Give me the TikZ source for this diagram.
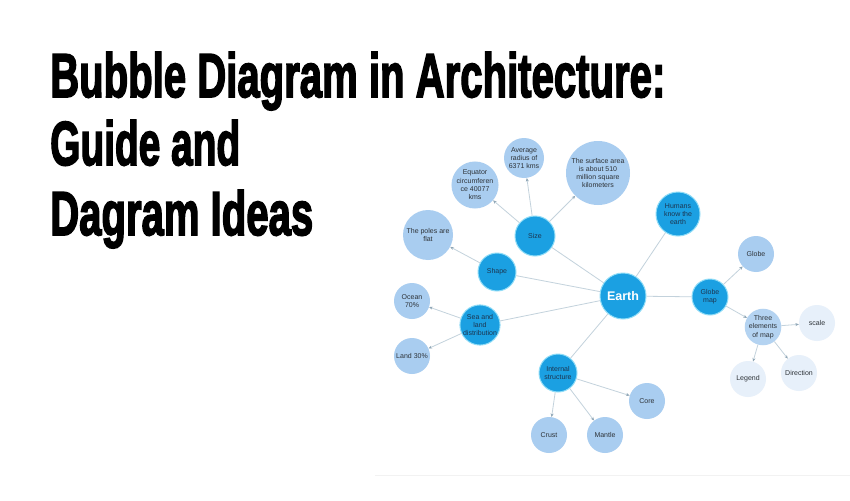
\documentclass[tikz,border=0pt]{standalone}
\usepackage{fontspec}
\setmainfont{Liberation Sans}
\newfontfamily\titlefont{Liberation Sans Bold}[FakeBold=3]
\usetikzlibrary{arrows.meta}
\definecolor{darkb}{HTML}{1BA0E2}
\definecolor{glow}{HTML}{8FDCF7}
\definecolor{lightb}{HTML}{A9CDF0}
\definecolor{midb}{HTML}{B4D3F1}
\definecolor{palest}{HTML}{E7F0FA}
\definecolor{edgec}{HTML}{C3D2DC}
\definecolor{arrc}{HTML}{8FA6B6}
\definecolor{txt}{HTML}{2E3338}
\definecolor{darktxt}{HTML}{1C3550}
\tikzset{
  bub/.style={circle, inner sep=0pt, align=center, font=\fontsize{7}{8.3}\selectfont, text=txt},
  darkbub/.style={bub, fill=darkb, draw=glow, line width=1pt, text=darktxt},
  lightbub/.style={bub, fill=lightb},
  midbub/.style={bub, fill=midb},
  palebub/.style={bub, fill=palest},
  link/.style={draw=edgec, line width=0.8pt},
  arr/.style={link, -{Stealth[length=3.5pt,width=3pt,color=arrc]}},
  titletxt/.style={anchor=base west, inner sep=0pt, text=black}
}
\begin{document}
\begin{tikzpicture}[x=1pt,y=-1pt]
\useasboundingbox (0,0) rectangle (850,500);
\fill[white] (0,0) rectangle (850,500);
% title
\node[titletxt] (t1) at (50,97) {\resizebox{615pt}{45pt}{\titlefont Bubble Diagram in Architecture:}};
\node[titletxt] (t2) at (50,165) {\resizebox{190pt}{45pt}{\titlefont Guide and}};
\node[titletxt] (t3) at (50,235) {\resizebox{263pt}{45pt}{\titlefont Dagram Ideas}};
% faint image edge
\draw[draw=black!5, line width=0.8pt] (375,475) -- (850,475);
% bubbles
\node[darkbub, minimum size=46pt, font=\bfseries\fontsize{12.5}{14}\selectfont, text=white] (earth) at (623,296) {Earth};
\node[darkbub, minimum size=40pt] (size) at (535,236) {Size};
\node[darkbub, minimum size=38pt] (shape) at (497,272) {Shape};
\node[darkbub, minimum size=40pt] (sea) at (480,325) {Sea and\\land\\distribution};
\node[darkbub, minimum size=38pt] (internal) at (558,373) {Internal\\structure};
\node[darkbub, minimum size=44pt] (humans) at (678,214) {Humans\\know the\\earth};
\node[darkbub, minimum size=36pt] (globemap) at (710,297) {Globe\\map};
\node[lightbub, minimum size=40pt] (equator) at (475,185) {Equator\\circumferen\\ce 40077\\kms};
\node[lightbub, minimum size=40pt] (average) at (524,158) {Average\\radius of\\6371 kms};
\node[lightbub, minimum size=64pt] (surface) at (598,173) {The surface area\\is about 510\\million square\\kilometers};
\node[lightbub, minimum size=50pt] (poles) at (428,235) {The poles are\\flat};
\node[lightbub, minimum size=36pt] (ocean) at (412,301) {Ocean\\70\%};
\node[lightbub, minimum size=36pt] (land) at (412,356) {Land 30\%};
\node[lightbub, minimum size=36pt] (crust) at (549,435) {Crust};
\node[lightbub, minimum size=36pt] (mantle) at (605,435) {Mantle};
\node[lightbub, minimum size=36pt] (core) at (647,401) {Core};
\node[lightbub, minimum size=36pt] (globe) at (756,254) {Globe};
\node[midbub, minimum size=36pt] (three) at (763,327) {Three\\elements\\of map};
\node[palebub, minimum size=36pt] (scale) at (817,323) {scale};
\node[palebub, minimum size=36pt] (legend) at (748,379) {Legend};
\node[palebub, minimum size=36pt] (direction) at (799,373) {Direction};
% connectors
\draw[link] (earth) -- (size);
\draw[link] (earth) -- (shape);
\draw[link] (earth) -- (sea);
\draw[link] (earth) -- (internal);
\draw[link] (earth) -- (humans);
\draw[link] (earth) -- (globemap);
\draw[arr] (size) -- (equator);
\draw[arr] (size) -- (average);
\draw[arr] (size) -- (surface);
\draw[arr] (shape) -- (poles);
\draw[arr] (sea) -- (ocean);
\draw[arr] (sea) -- (land);
\draw[arr] (internal) -- (crust);
\draw[arr] (internal) -- (mantle);
\draw[arr] (internal) -- (core);
\draw[arr] (globemap) -- (globe);
\draw[arr] (globemap) -- (three);
\draw[arr] (three) -- (scale);
\draw[arr] (three) -- (legend);
\draw[arr] (three) -- (direction);
\end{tikzpicture}
\end{document}
